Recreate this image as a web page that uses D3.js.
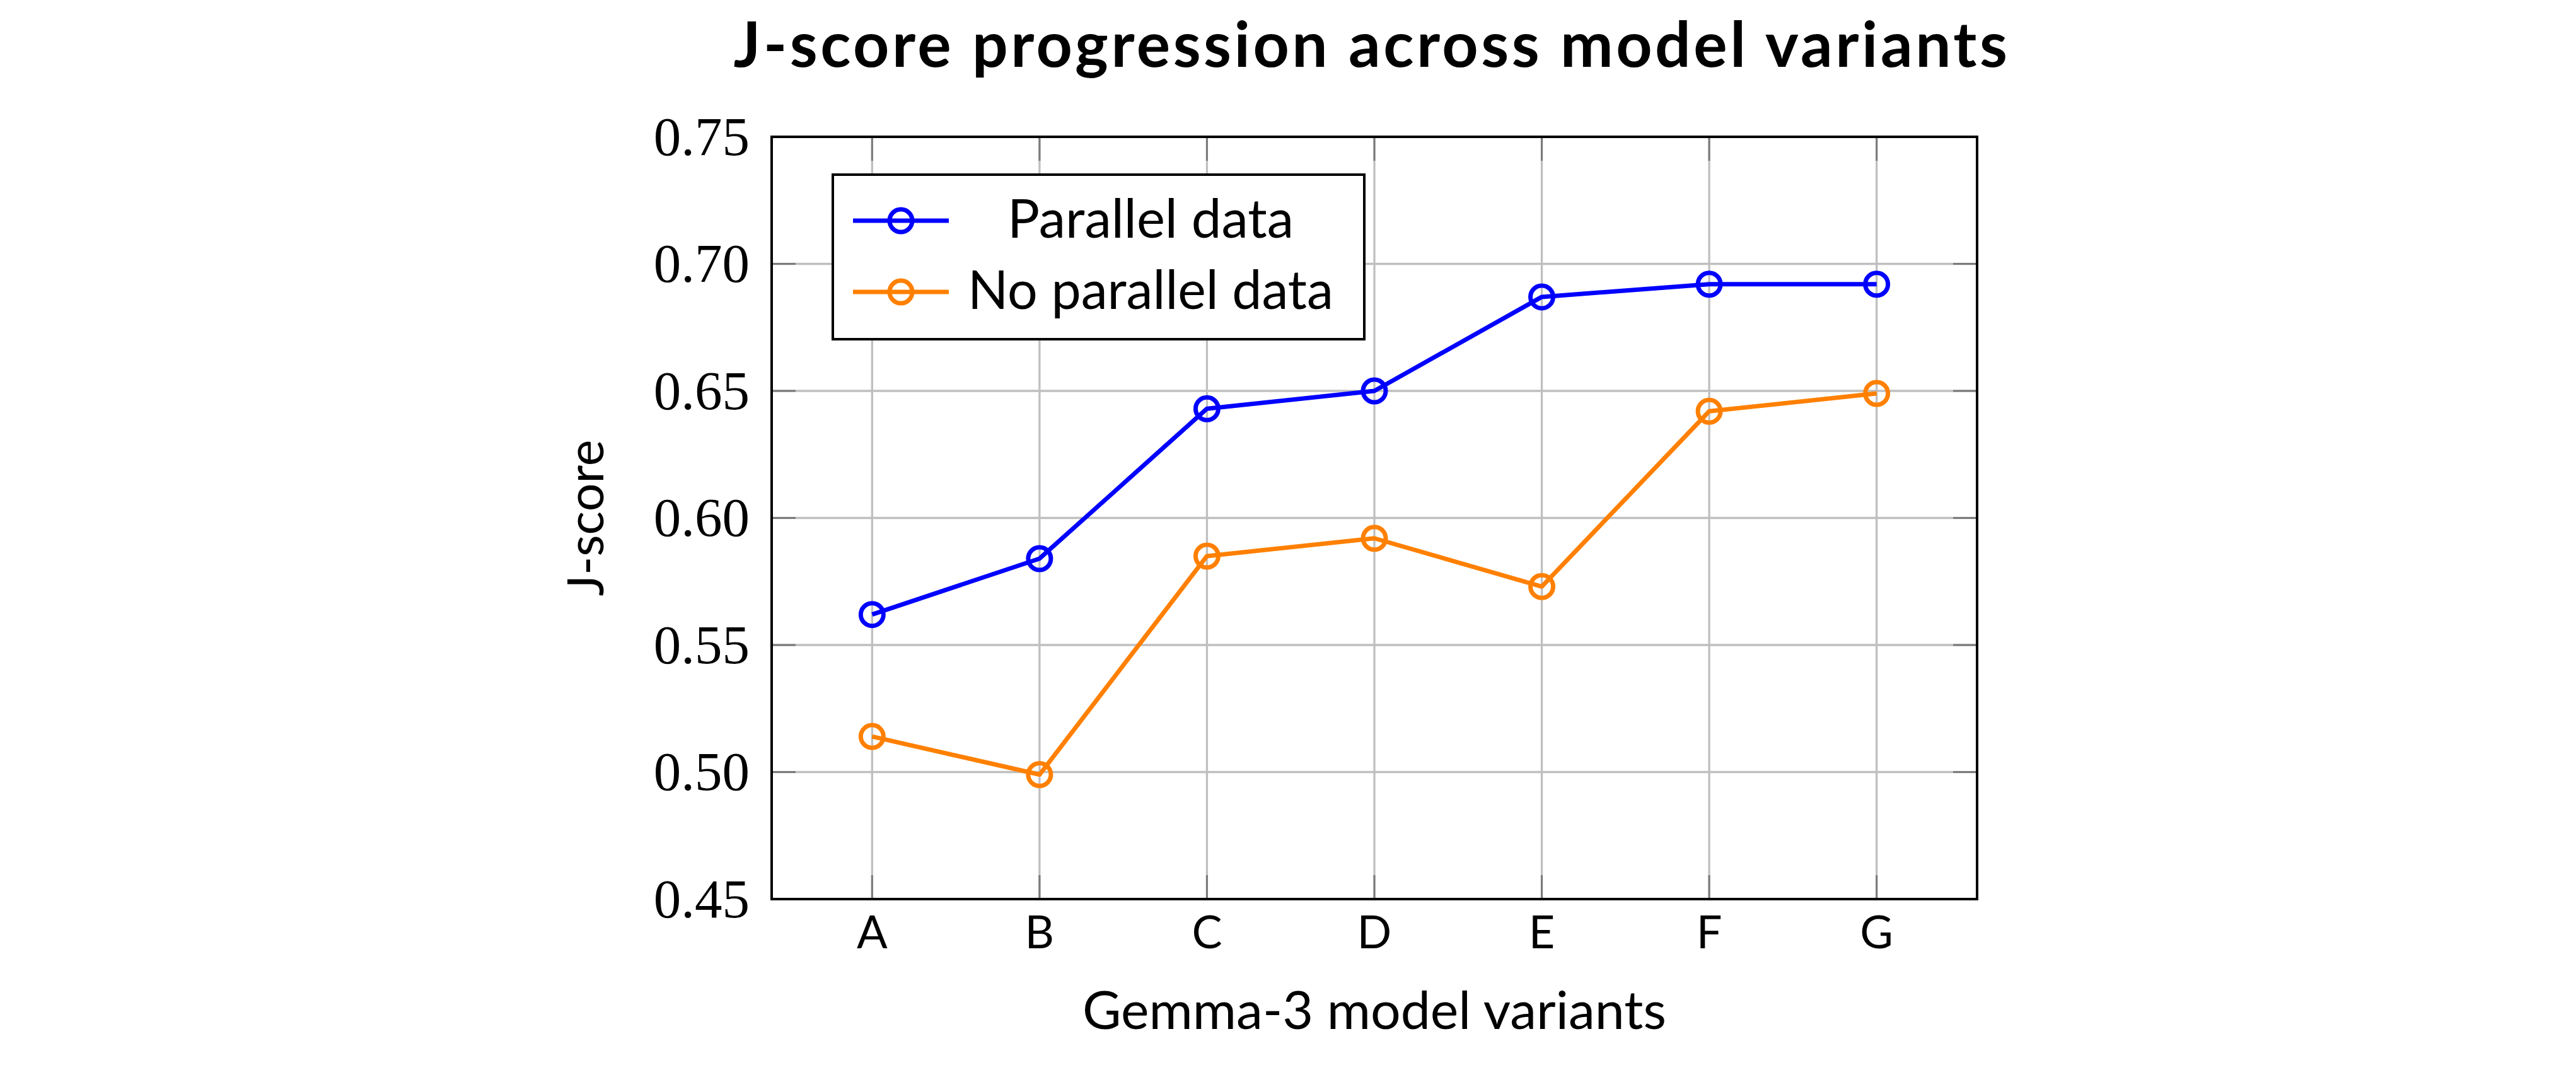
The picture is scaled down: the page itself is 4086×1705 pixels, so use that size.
<!DOCTYPE html>
<html>
<head>
<meta charset="utf-8">
<script src="https://cdn.jsdelivr.net/npm/d3@7"></script>
<style>
  html, body { margin: 0; padding: 0; background: #fff; }
  svg { display: block; }
</style>
</head>
<body>
<div id="chart"></div>
<script>
const variants = ['A', 'B', 'C', 'D', 'E', 'F', 'G']
const parallelScores = [0.562, 0.584, 0.643, 0.65, 0.687, 0.692, 0.692]
const noParallelScores = [0.514, 0.499, 0.585, 0.592, 0.573, 0.642, 0.649]
const yTicks = [0.45, 0.5, 0.55, 0.6, 0.65, 0.7, 0.75]
const seriesNames = ['Parallel data', 'No parallel data']

const width = 4086
const height = 1705
const plot = { left: 1224, right: 3136, top: 217, bottom: 1426 }
const labelFont = 'Lato, "Open Sans", sans-serif'
const colors = ['#0000ff', '#ff8000']

const series = seriesNames.map((name, i) => ({
  name,
  color: colors[i],
  values: (i === 0 ? parallelScores : noParallelScores).map((v, j) => ({ variant: variants[j], v })),
}))

const svg = d3
  .select('#chart')
  .append('svg')
  .attr('width', width)
  .attr('height', height)
  .attr('viewBox', `0 0 ${width} ${height}`)

svg.append('rect').attr('width', width).attr('height', height).attr('fill', '#fff')

const x = d3.scalePoint().domain(variants).range([plot.left, plot.right]).padding(0.6)
const y = d3.scaleLinear().domain([0.45, 0.75]).range([plot.bottom, plot.top])

// shrink or grow a text until it has the wanted width
function fitWidth(sel, target) {
  const size = parseFloat(sel.attr('font-size'))
  const w = sel.node().getComputedTextLength()
  sel.attr('font-size', (size * target) / w)
}

// keep the font size, spread the letters instead
function fitSpacing(sel, target) {
  const w = sel.node().getComputedTextLength()
  const n = sel.text().length
  sel.attr('letter-spacing', (target - w) / n)
}

// grid
const grid = svg.append('g').attr('stroke', '#bfbfbf').attr('stroke-width', 3.3)
grid
  .selectAll('.vgrid')
  .data(variants)
  .join('line')
  .attr('x1', (d) => x(d))
  .attr('x2', (d) => x(d))
  .attr('y1', plot.top)
  .attr('y2', plot.bottom)
grid
  .selectAll('.hgrid')
  .data(yTicks.slice(1, -1))
  .join('line')
  .attr('x1', plot.left)
  .attr('x2', plot.right)
  .attr('y1', (d) => y(d))
  .attr('y2', (d) => y(d))

// inward ticks on all four sides
const tickLen = 38
const ticks = svg.append('g').attr('stroke', '#7a7a7a').attr('stroke-width', 3)
variants.forEach((d) => {
  ticks.append('line').attr('x1', x(d)).attr('x2', x(d)).attr('y1', plot.bottom).attr('y2', plot.bottom - tickLen)
  ticks.append('line').attr('x1', x(d)).attr('x2', x(d)).attr('y1', plot.top).attr('y2', plot.top + tickLen)
})
yTicks.slice(1, -1).forEach((d) => {
  ticks.append('line').attr('x1', plot.left).attr('x2', plot.left + tickLen).attr('y1', y(d)).attr('y2', y(d))
  ticks.append('line').attr('x1', plot.right).attr('x2', plot.right - tickLen).attr('y1', y(d)).attr('y2', y(d))
})

// frame
svg
  .append('rect')
  .attr('x', plot.left)
  .attr('y', plot.top)
  .attr('width', plot.right - plot.left)
  .attr('height', plot.bottom - plot.top)
  .attr('fill', 'none')
  .attr('stroke', '#000')
  .attr('stroke-width', 4)

// y tick labels
svg
  .append('g')
  .selectAll('text')
  .data(yTicks)
  .join('text')
  .attr('x', plot.left - 35)
  .attr('y', (d) => y(d))
  .attr('dy', '0.33em')
  .attr('text-anchor', 'end')
  .attr('font-family', '"Liberation Serif", serif')
  .attr('font-size', 87)
  .attr('fill', '#000')
  .text((d) => d3.format('.2f')(d))

// x tick labels
svg
  .append('g')
  .selectAll('text')
  .data(variants)
  .join('text')
  .attr('x', (d) => x(d))
  .attr('y', 1504)
  .attr('text-anchor', 'middle')
  .attr('font-family', labelFont)
  .attr('font-size', 72)
  .attr('fill', '#000')
  .text((d) => d)

// axis labels
const xLabel = svg
  .append('text')
  .attr('x', (plot.left + plot.right) / 2)
  .attr('y', 1632)
  .attr('text-anchor', 'middle')
  .attr('font-family', labelFont)
  .attr('font-size', 82)
  .text('Gemma-3 model variants')
fitWidth(xLabel, 926)

const yLabel = svg
  .append('text')
  .attr('transform', `translate(957, ${(plot.top + plot.bottom) / 2}) rotate(-90)`)
  .attr('text-anchor', 'middle')
  .attr('font-family', labelFont)
  .attr('font-size', 80)
  .text('J-score')
fitWidth(yLabel, 248)

// title
const title = svg
  .append('text')
  .attr('x', 2176)
  .attr('y', 106)
  .attr('text-anchor', 'middle')
  .attr('font-family', labelFont)
  .attr('font-weight', 700)
  .attr('font-size', 100)
  .text('J-score progression across model variants')
fitSpacing(title, 2025)

// lines and markers
const line = d3
  .line()
  .x((d) => x(d.variant))
  .y((d) => y(d.v))

series.forEach((s) => {
  const g = svg.append('g').attr('class', 'series')
  g.append('path')
    .attr('d', line(s.values))
    .attr('fill', 'none')
    .attr('stroke', s.color)
    .attr('stroke-width', 7)
    .attr('stroke-linejoin', 'round')
  g.selectAll('circle')
    .data(s.values)
    .join('circle')
    .attr('cx', (d) => x(d.variant))
    .attr('cy', (d) => y(d.v))
    .attr('r', 18)
    .attr('fill', 'none')
    .attr('stroke', s.color)
    .attr('stroke-width', 7)
})

// legend
const legend = { left: plot.left + 97, top: plot.top + 60, width: 843, height: 261 }
const lg = svg.append('g').attr('class', 'legend')
lg.append('rect')
  .attr('x', legend.left)
  .attr('y', legend.top)
  .attr('width', legend.width)
  .attr('height', legend.height)
  .attr('fill', '#fff')
  .attr('stroke', '#000')
  .attr('stroke-width', 4)

const legendWidths = [454, 580]
series.forEach((s, i) => {
  const cy = legend.top + 73 + i * 113
  lg.append('line')
    .attr('x1', legend.left + 32)
    .attr('x2', legend.left + 184)
    .attr('y1', cy)
    .attr('y2', cy)
    .attr('stroke', s.color)
    .attr('stroke-width', 7)
  lg.append('circle')
    .attr('cx', legend.left + 108)
    .attr('cy', cy)
    .attr('r', 18)
    .attr('fill', 'none')
    .attr('stroke', s.color)
    .attr('stroke-width', 7)
  const t = lg
    .append('text')
    .attr('x', legend.left + 504)
    .attr('y', cy + 27)
    .attr('text-anchor', 'middle')
    .attr('font-family', labelFont)
    .attr('font-size', 76)
    .text(s.name)
  fitWidth(t, legendWidths[i])
})
</script>
</body>
</html>
